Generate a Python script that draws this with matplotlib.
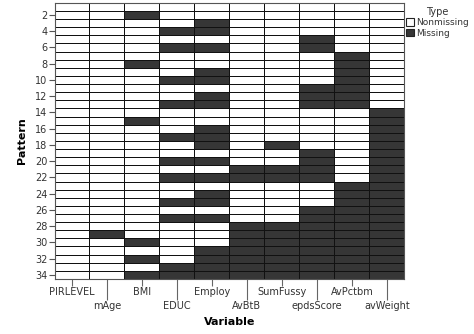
import matplotlib
matplotlib.use("Agg")
import matplotlib.pyplot as plt
import numpy as np
from matplotlib.colors import ListedColormap
from matplotlib.patches import Patch

variables = ["PIRLEVEL", "mAge", "BMI", "EDUC", "Employ", "AvBtB",
             "SumFussy", "epdsScore", "AvPctbm", "avWeight"]

# Missing variables for each pattern (1..34)
missing_patterns = [
    [],
    ["BMI"],
    ["Employ"],
    ["EDUC", "Employ"],
    ["epdsScore"],
    ["EDUC", "Employ", "epdsScore"],
    ["AvPctbm"],
    ["BMI", "AvPctbm"],
    ["Employ", "AvPctbm"],
    ["EDUC", "Employ", "AvPctbm"],
    ["epdsScore", "AvPctbm"],
    ["Employ", "epdsScore", "AvPctbm"],
    ["EDUC", "Employ", "epdsScore", "AvPctbm"],
    ["avWeight"],
    ["BMI", "avWeight"],
    ["Employ", "avWeight"],
    ["EDUC", "Employ", "avWeight"],
    ["Employ", "SumFussy", "avWeight"],
    ["epdsScore", "avWeight"],
    ["EDUC", "Employ", "epdsScore", "avWeight"],
    ["AvBtB", "SumFussy", "epdsScore", "avWeight"],
    ["EDUC", "Employ", "AvBtB", "SumFussy", "epdsScore", "avWeight"],
    ["AvPctbm", "avWeight"],
    ["Employ", "AvPctbm", "avWeight"],
    ["EDUC", "Employ", "AvPctbm", "avWeight"],
    ["epdsScore", "AvPctbm", "avWeight"],
    ["EDUC", "Employ", "epdsScore", "AvPctbm", "avWeight"],
    ["AvBtB", "SumFussy", "epdsScore", "AvPctbm", "avWeight"],
    ["mAge", "AvBtB", "SumFussy", "epdsScore", "AvPctbm", "avWeight"],
    ["BMI", "AvBtB", "SumFussy", "epdsScore", "AvPctbm", "avWeight"],
    ["Employ", "AvBtB", "SumFussy", "epdsScore", "AvPctbm", "avWeight"],
    ["BMI", "Employ", "AvBtB", "SumFussy", "epdsScore", "AvPctbm", "avWeight"],
    ["EDUC", "Employ", "AvBtB", "SumFussy", "epdsScore", "AvPctbm", "avWeight"],
    ["BMI", "EDUC", "Employ", "AvBtB", "SumFussy", "epdsScore", "AvPctbm", "avWeight"],
]
pattern_ticks = list(range(2, 35, 2))
type_labels = ["Nonmissing", "Missing"]

n_rows = len(missing_patterns)
n_cols = len(variables)
grid = np.zeros((n_rows, n_cols))
for i, miss in enumerate(missing_patterns):
    for v in miss:
        grid[i, variables.index(v)] = 1

dark = "#363636"
fig = plt.figure(figsize=(4.74, 3.34), dpi=100)
ax = fig.add_axes([0.115, 0.1647, 0.738, 0.827])

xe = np.arange(n_cols + 1) + 0.5
ye = np.arange(n_rows + 1) + 0.5
ax.pcolormesh(xe, ye, grid, cmap=ListedColormap(["white", dark]),
              vmin=0, vmax=1, edgecolors="#111111", linewidth=0.55)
ax.set_xlim(0.5, n_cols + 0.5)
ax.set_ylim(n_rows + 0.5, 0.5)

for s in ax.spines.values():
    s.set_color("#555555")
    s.set_linewidth(0.8)

ax.set_yticks(pattern_ticks)
ax.set_yticklabels([str(t) for t in pattern_ticks], fontsize=7, color="#333333")
ax.tick_params(axis="y", length=4, width=0.8, color="#555555", pad=1)

xpos = np.arange(1, n_cols + 1)
ax.set_xticks(xpos[0::2])
ax.set_xticklabels(variables[0::2], fontsize=7, color="#333333")
ax.set_xticks(xpos[1::2], minor=True)
ax.set_xticklabels(variables[1::2], minor=True, fontsize=7, color="#333333")
ax.tick_params(axis="x", which="major", length=5, width=0.8, color="#666666", pad=1)
ax.tick_params(axis="x", which="minor", length=15, width=0.8, color="#666666", pad=1)

ax.set_xlabel("Variable", fontsize=8, fontweight="bold", labelpad=4)
ax.set_ylabel("Pattern", fontsize=8, fontweight="bold", labelpad=6)

handles = [Patch(facecolor="white", edgecolor="#222222", linewidth=0.8, label=type_labels[0]),
           Patch(facecolor=dark, edgecolor="#222222", linewidth=0.8, label=type_labels[1])]
leg = fig.legend(handles=handles, title="Type", loc="upper left",
                 bbox_to_anchor=(0.852, 0.985), frameon=False, fontsize=6.5,
                 title_fontsize=7, handlelength=0.9, handleheight=0.9,
                 handletextpad=0.3, labelspacing=0.15, borderaxespad=0,
                 borderpad=0.2)
leg.get_title().set_color("#333333")
for t in leg.get_texts():
    t.set_color("#333333")

fig.savefig("out.png", dpi=100)
